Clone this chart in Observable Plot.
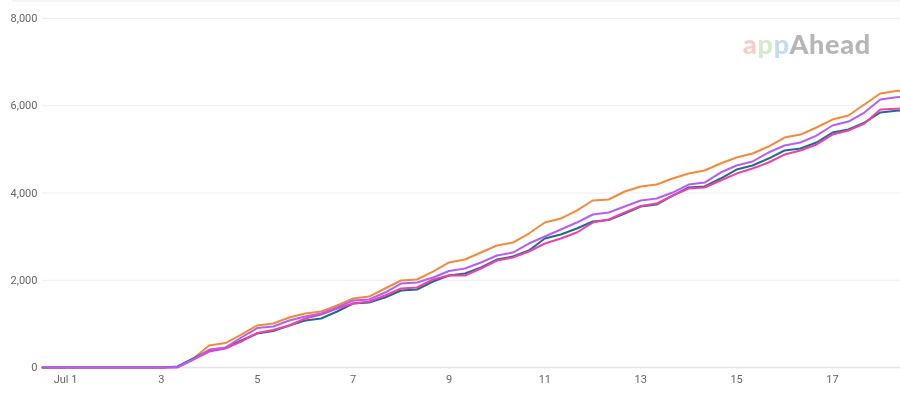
<!DOCTYPE html>
<html><head><meta charset="utf-8">
<script src="https://cdn.jsdelivr.net/npm/d3@7"></script>
<script src="https://cdn.jsdelivr.net/npm/@observablehq/plot@0.6"></script>
<style>
html,body{margin:0;padding:0;background:#fff;width:900px;height:400px;overflow:hidden}
#wrap{position:relative;width:900px;height:400px}
#top{position:absolute;left:12px;top:0;width:888px;height:2px;background:#f4f4f4}
#logo{position:absolute;left:743px;top:25px;font:900 27px/38px Lato,sans-serif;letter-spacing:.7px;white-space:nowrap;filter:blur(.5px)}
svg{display:block;filter:blur(.35px)}
</style></head><body>
<div id="wrap"><div id="chart"></div><div id="top"></div>
<div id="logo"><span style="color:#f8cdc8">a</span><span style="color:#d5e9cb">p</span><span style="color:#c3dcf0">p</span><span style="color:#b6b6b6">Ahead</span></div></div>
<script>
const hoursFromJul3 = d3.range(0, 369, 8);
const seriesOrange = [0,10,206,504,560,756,963,1008,1146,1238,1284,1421,1581,1627,1811,1994,2017,2200,2407,2475,2636,2796,2865,3071,3323,3415,3598,3828,3851,4034,4149,4194,4332,4446,4515,4676,4813,4905,5065,5272,5340,5501,5684,5776,6028,6280,6340];
const seriesPurple = [0,10,183,413,458,688,905,940,1077,1169,1238,1375,1536,1559,1719,1925,1948,2063,2212,2269,2407,2567,2636,2842,3003,3163,3323,3507,3553,3690,3828,3873,4011,4194,4240,4469,4630,4722,4928,5088,5157,5317,5547,5638,5845,6143,6195];
const seriesTeal = [0,23,206,390,447,619,779,837,963,1077,1123,1284,1467,1490,1604,1765,1788,1971,2109,2154,2292,2475,2544,2682,2957,3048,3186,3346,3381,3530,3690,3736,3942,4126,4149,4332,4538,4630,4790,4974,5019,5157,5386,5455,5615,5845,5885];
const seriesPink = [0,0,183,367,435,596,791,860,963,1123,1215,1352,1467,1513,1650,1811,1834,2017,2109,2109,2269,2452,2521,2659,2842,2957,3094,3323,3392,3553,3701,3759,3942,4103,4126,4286,4446,4561,4699,4882,4974,5111,5340,5432,5592,5913,5930];
const seriesNames = ["Series 1","Series 2","Series 3","Series 4"];
const seriesValues = [seriesOrange,seriesTeal,seriesPink,seriesPurple];
const seriesColors = ["#f28a3a","#1d6e8e","#f23fa9","#b45ef7"];
const yTicks = [0,2000,4000,6000,8000];
const xTickDays = [1,3,5,7,9,11,13,15,17];
const xTickLabels = ["Jul 1","3","5","7","9","11","13","15","17"];

const H = 3600e3, jul3 = Date.UTC(2023,6,3);
const dayDate = d => new Date(Date.UTC(2023,6,1) + (d-1)*24*H);
const rows = seriesNames.flatMap((name,s) => [
  {name, t:dayDate(0.52), v:0},
  ...hoursFromJul3.map((h,i)=>({name, t:new Date(jul3+h*H), v:seriesValues[s][i]})),
  {name, t:dayDate(18.42), v:seriesValues[s][seriesValues[s].length-1]+5}
]);
const chart = Plot.plot({
  width:900,height:400,marginLeft:42,marginRight:0,marginTop:18,marginBottom:33,
  style:{fontFamily:"Roboto, sans-serif",fontSize:"11px",color:"#666",background:"#fff"},
  x:{type:"utc",domain:[dayDate(0.52),dayDate(18.42)]},
  y:{domain:[0,8000]},
  color:{domain:seriesNames,range:seriesColors},
  marks:[
    Plot.gridY(yTicks,{stroke:"#eeeeee",strokeOpacity:1,strokeWidth:1}),
    Plot.ruleY([0],{stroke:"#e4e4ea",strokeWidth:1.5}),
    Plot.axisY({ticks:yTicks,tickSize:0,tickPadding:5,label:null,tickFormat:d3.format(",")}),
    Plot.axisX({ticks:xTickDays.map(dayDate),tickFormat:(d,i)=>xTickLabels[i],tickSize:2,tickPadding:6,stroke:"#e8e8e8",label:null}),
    Plot.line(rows,{x:"t",y:"v",z:"name",stroke:"name",strokeWidth:2,curve:"linear"})
  ]
});
document.getElementById("chart").append(chart);
</script></body></html>
